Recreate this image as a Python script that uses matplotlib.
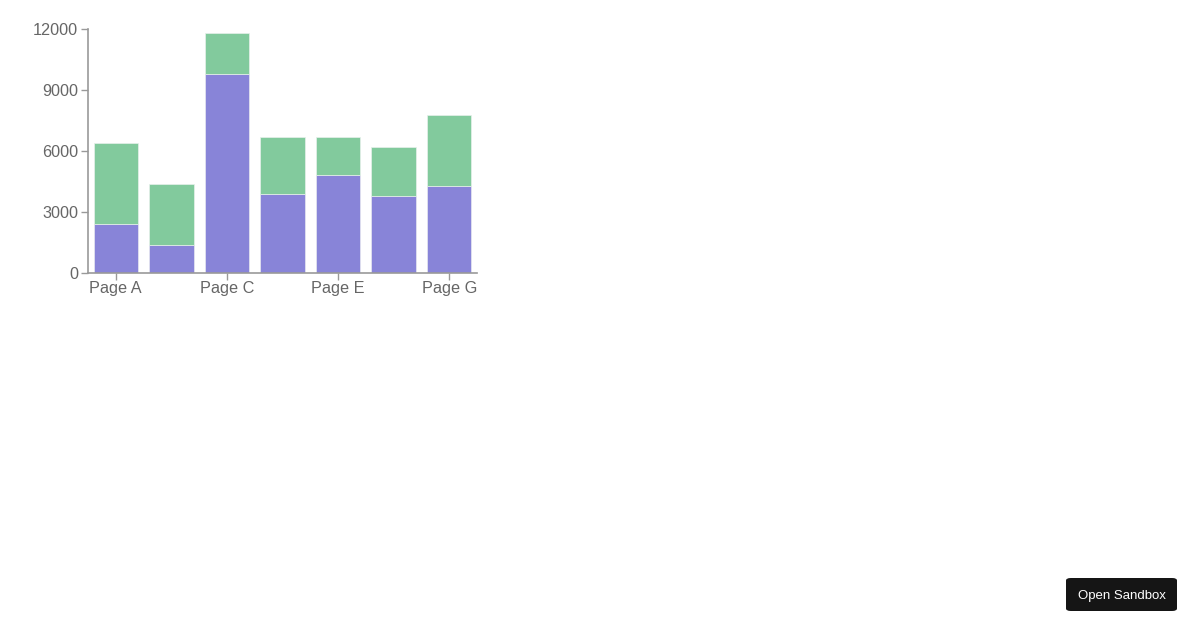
import matplotlib.pyplot as plt
import numpy as np
from matplotlib.patches import FancyBboxPatch

plt.rcParams['font.family'] = ['Liberation Sans', 'DejaVu Sans']

# Data
pages = ['Page A', 'Page B', 'Page C', 'Page D', 'Page E', 'Page F', 'Page G']
pv = [2400, 1398, 9800, 3908, 4800, 3800, 4300]
uv = [4000, 3000, 2000, 2780, 1890, 2390, 3490]
y_ticks = [0, 3000, 6000, 9000, 12000]

fig = plt.figure(figsize=(12, 6.3), dpi=100)
ax = fig.add_axes([88 / 1200, 1 - 273 / 630, 389 / 1200, 244 / 630])

x = np.arange(len(pages))
ax.bar(x, pv, width=0.8, color='#8884d8', edgecolor='#e8e8f0', linewidth=0.5)
ax.bar(x, uv, width=0.8, bottom=pv, color='#82ca9d', edgecolor='#e8f0ec', linewidth=0.5)

ax.set_xlim(-0.5, len(pages) - 0.5)
ax.set_ylim(0, 12000)
ax.set_yticks(y_ticks)
ax.set_xticks(x[::2])
ax.set_xticklabels(pages[::2])

for s in ['top', 'right']:
    ax.spines[s].set_visible(False)
for s in ['left', 'bottom']:
    ax.spines[s].set_color('#999999')
    ax.spines[s].set_linewidth(1.2)
ax.tick_params(colors='#999999', labelcolor='#666666', labelsize=11.7, length=5, width=1)
ax.tick_params(axis='x', pad=1)
ax.tick_params(axis='y', pad=2)

# Open Sandbox button
btn = FancyBboxPatch((1066 / 1200, 1 - 611 / 630), 111 / 1200, 33 / 630,
                     boxstyle='round,pad=0,rounding_size=0.004',
                     transform=fig.transFigure, facecolor='#151515', edgecolor='none')
fig.patches.append(btn)
fig.text(1121.5 / 1200, 1 - 596.5 / 630, 'Open Sandbox', color='white',
         fontsize=9.5, ha='center', va='center')

fig.savefig('out.png', dpi=100)
